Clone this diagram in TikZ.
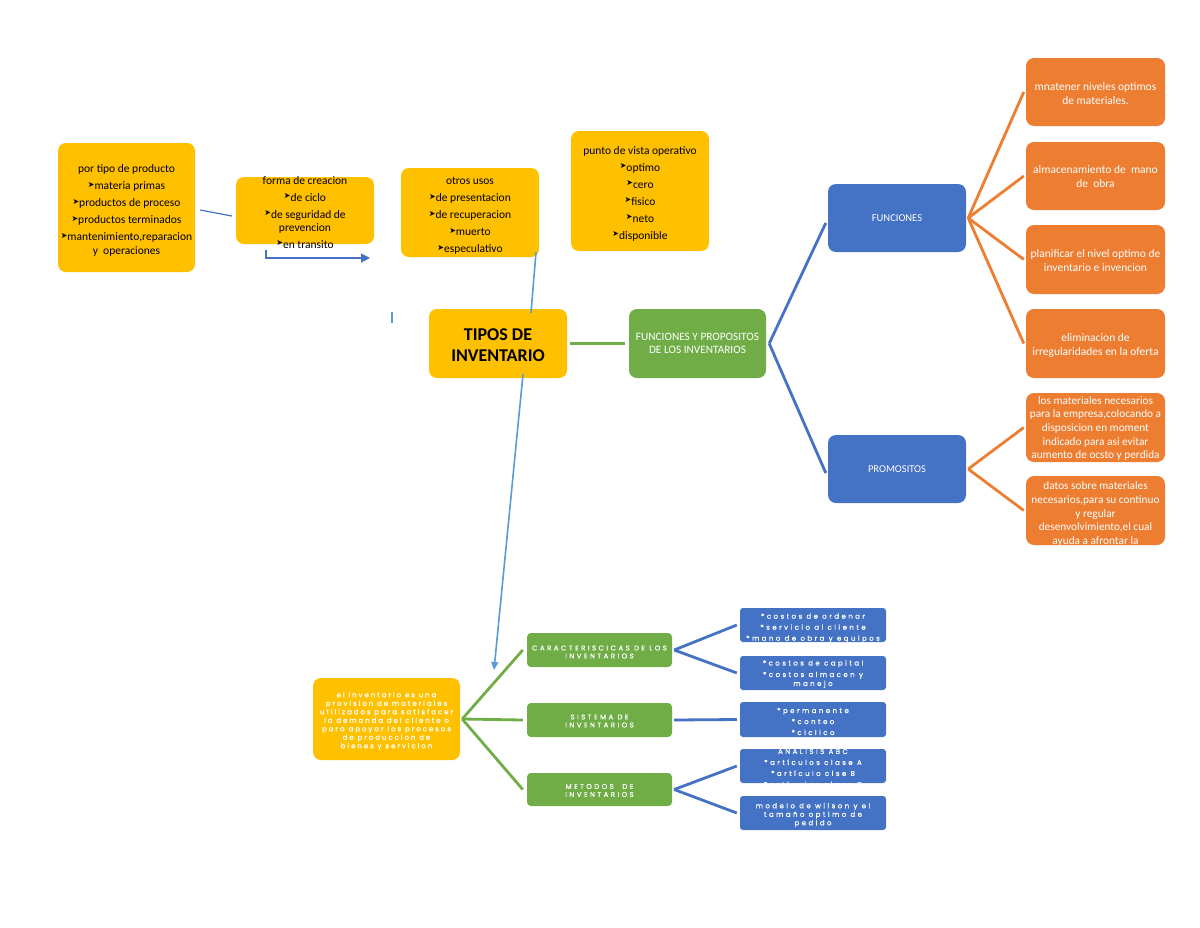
\documentclass[tikz,border=0pt]{standalone}
\usepackage{fontspec}
\setmainfont{Carlito}
\newfontfamily\dejavu{DejaVu Sans}
\newfontfamily\wideA[LetterSpace=35,FakeBold=0.6]{Poppins}
\newfontfamily\wideB[LetterSpace=28,FakeBold=0.6]{Poppins}
\usetikzlibrary{calc,arrows.meta}
\definecolor{yel}{HTML}{FFC000}
\definecolor{grn}{HTML}{70AD47}
\definecolor{blu}{HTML}{4472C4}
\definecolor{lblu}{HTML}{5B9BD5}
\definecolor{org}{HTML}{ED7D31}
\newcommand\bul{\raisebox{2.5pt}{\dejavu\fontsize{8}{8}\selectfont ➤}}
\begin{document}
\begin{tikzpicture}[x=1pt,y=-1pt,
  shp/.style={rounded corners=8pt, inner sep=0pt, draw=none},
  ybox/.style={shp, fill=yel},
  gbox/.style={shp, fill=grn},
  bbox/.style={shp, fill=blu},
  obox/.style={shp, fill=org},
  sbox/.style={rounded corners=3pt, inner sep=0pt, draw=none},
  txt/.style={align=center, inner sep=0pt, font=\fontsize{11.5}{17}\selectfont},
  otxt/.style={align=center, inner sep=0pt, text=white, font=\fontsize{11.5}{14}\selectfont},
  otxt2/.style={align=center, inner sep=0pt, text=white, font=\fontsize{11.3}{13.6}\selectfont},
  wtxt/.style={align=center, inner sep=0pt, text=white, font=\wideA\fontsize{7}{8}\selectfont},
  btxt/.style={align=center, inner sep=0pt, text=white, font=\wideA\fontsize{7}{11}\selectfont},
  itxt/.style={align=center, inner sep=0pt, text=white, font=\wideB\fontsize{7}{8.5}\selectfont},
  thin/.style={draw=blu, line width=1.2pt},
  thinl/.style={draw=lblu, line width=1.6pt},
  thick/.style={line width=2.8pt},
]
\useasboundingbox (0,0) rectangle (1200,927);

% ---------- boxes ----------
\node[ybox, minimum width=137pt, minimum height=129pt] (ptp) at (126.5,207.5) {};
\node[ybox, minimum width=138pt, minimum height=67pt] (forma) at (305,210.5) {};
\node[ybox, minimum width=138pt, minimum height=89pt] (otros) at (470,212.5) {};
\node[ybox, minimum width=138pt, minimum height=120pt] (punto) at (640,191) {};
\node[ybox, minimum width=138pt, minimum height=69pt] (tipos) at (498,343.5) {};
\node[gbox, minimum width=137pt, minimum height=69pt] (fyp) at (697.5,343.5) {};
\node[bbox, minimum width=138pt, minimum height=68pt] (fun) at (897,218) {};
\node[bbox, minimum width=138pt, minimum height=68pt] (pro) at (897,469) {};
\node[obox, minimum width=139pt, minimum height=68pt] (oa) at (1095.5,92) {};
\node[obox, minimum width=139pt, minimum height=68pt] (ob) at (1095.5,176) {};
\node[obox, minimum width=139pt, minimum height=69pt] (oc) at (1095.5,259.5) {};
\node[obox, minimum width=139pt, minimum height=69pt] (od) at (1095.5,343.5) {};
\node[obox, minimum width=139pt, minimum height=69pt] (oe) at (1095.5,427.5) {};
\node[obox, minimum width=139pt, minimum height=69pt] (of) at (1095.5,510.5) {};
\node[ybox, minimum width=147pt, minimum height=82pt] (inv) at (386.5,719) {};
\node[gbox, rounded corners=4pt, minimum width=145pt, minimum height=34pt] (car) at (599.5,650) {};
\node[gbox, rounded corners=4pt, minimum width=145pt, minimum height=34pt] (sis) at (599.5,720) {};
\node[gbox, rounded corners=4pt, minimum width=145pt, minimum height=33pt] (met) at (599.5,789.5) {};
\node[bbox, sbox, minimum width=146pt, minimum height=34pt] (ba) at (813,625) {};
\node[bbox, sbox, minimum width=146pt, minimum height=34pt] (bb) at (813,673) {};
\node[bbox, sbox, minimum width=146pt, minimum height=35pt] (bc) at (813,719.5) {};
\node[bbox, sbox, minimum width=146pt, minimum height=34pt] (bd) at (813,766) {};
\node[bbox, sbox, minimum width=146pt, minimum height=34pt] (be) at (813,813) {};

% ---------- texts ----------
\node[txt] at ([yshift=-3pt]ptp.center) {por tipo de producto\\\bul materia primas\\\bul productos de proceso\\\bul productos terminados\\\bul mantenimiento,reparacion\\[-3pt]y\ \ operaciones};
\node[txt] at ([yshift=-2pt]forma.center) {forma de creacion\\\bul de ciclo\\\bul de seguridad de\\[-4pt]prevencion\\\bul en transito};
\node[txt] at ([yshift=-3.5pt]otros.center) {otros usos\\\bul de presentacion\\\bul de recuperacion\\\bul muerto\\\bul especulativo};
\node[txt] at ([yshift=-2.5pt]punto.center) {punto de vista operativo\\\bul optimo\\\bul cero\\\bul fisico\\\bul neto\\\bul disponible};
\node[align=center, inner sep=0pt, font=\bfseries\fontsize{18}{21}\selectfont] at ([yshift=-2pt]tipos.center) {TIPOS DE\\INVENTARIO};
\node[align=center, inner sep=0pt, text=white, font=\fontsize{11.3}{13}\selectfont] at (fyp.center) {FUNCIONES Y PROPOSITOS\\DE LOS INVENTARIOS};
\node[align=center, inner sep=0pt, text=white, font=\fontsize{10.5}{12}\selectfont] at (fun.center) {FUNCIONES};
\node[align=center, inner sep=0pt, text=white, font=\fontsize{10.5}{12}\selectfont] at (pro.center) {PROMOSITOS};
\node[otxt] at ([yshift=-2pt]oa.center) {mnatener niveles optimos\\de materiales.};
\node[otxt] at ([yshift=-1pt]ob.center) {almacenamiento de\ \ mano\\de\ \ obra};
\node[otxt] at ([yshift=-1pt]oc.center) {planificar el nivel optimo de\\inventario e invencion};
\node[otxt] at ([yshift=-2pt]od.center) {eliminacion de\\irregularidades en la oferta};
\node[otxt2] at ([yshift=-1pt]oe.center) {los materiales necesarios\\para la empresa,colocando a\\disposicion en moment\\indicado para asi evitar\\aumento de ocsto y perdida};
\node[otxt2] at ([yshift=-3.5pt]of.center) {datos sobre materiales\\necesarios,para su continuo\\y regular\\desenvolvimiento,el cual\\ayuda a afrontar la};
\node[itxt] at ([yshift=-2pt]inv.center) {el inventario es una\\provision de materiales\\utilizados para satisfacer\\la demanda del cliente o\\para apoyar los procesos\\de produccion de\\bienes y servicion};
\node[wtxt] at ([yshift=-2pt]car.center) {CARACTERISCICAS DE LOS\\INVENTARIOS};
\node[wtxt] at ([yshift=-1pt]sis.center) {SISTEMA DE\\INVENTARIOS};
\node[wtxt] at ([yshift=-1pt]met.center) {METODOS\ \ DE\\INVENTARIOS};
\node[btxt] at ([yshift=-3pt]ba.center) {*costos de ordenar\\*servicio al cliente\\*mano de obra y equipos};
\node[btxt, font=\wideA\fontsize{7}{11.5}\selectfont] at ([yshift=-1pt]bb.center) {*costos de capital\\*costos almacen y\\[-2.5pt]manejo};
\node[btxt] at ([yshift=-2pt]bc.center) {*permanente\\*conteo\\*ciclico};
\node[btxt] at ([yshift=-2pt]bd.center) {ANALISIS ABC\\*artículos clase A\\*artículo clse B\\*artículos clase C};
\node[btxt, font=\wideA\fontsize{7}{8.5}\selectfont] at ([yshift=-2pt]be.center) {modelo de wilson y el\\tamaño optimo de\\pedido};

% ---------- connectors ----------
\draw[thin] ([xshift=5pt,yshift=-2.5pt]ptp.east) -- ([xshift=-4pt,yshift=-5.5pt]forma.west);
\coordinate (fa) at (266,250);
\coordinate (fb) at (370,258);
\draw[thin, -{Triangle[length=9pt,width=9pt]}] (fa) |- (fb);
\coordinate (m1) at (392,312);
\coordinate (m2) at (392,323);
\draw[thinl] (m1) -- (m2);
\draw[thinl] ([xshift=66pt,yshift=5pt]otros.south) -- ([xshift=33pt,yshift=-4pt]tipos.north);
\coordinate (arrend) at (494,670);
\draw[thinl, -{Triangle[length=8pt,width=7pt]}] ([xshift=25pt,yshift=4pt]tipos.south) -- (arrend);
\draw[grn, thick] ([xshift=3pt]tipos.east) -- ([xshift=-4pt]fyp.west);
\draw[blu, thick] ([xshift=3pt]fyp.east) -- ([xshift=-2pt,yshift=-5pt]fun.west);
\draw[blu, thick] ([xshift=3pt]fyp.east) -- ([xshift=-2pt,yshift=-4pt]pro.west);
\foreach \t in {oa,ob,oc,od}
  \draw[org, thick] ([xshift=2pt]fun.east) -- ([xshift=-2pt]\t.west);
\foreach \t in {oe,of}
  \draw[org, thick] ([xshift=2pt]pro.east) -- ([xshift=-2pt]\t.west);
\foreach \t in {car,sis,met}
  \draw[grn, thick] ([xshift=2pt]inv.east) -- ([xshift=-4pt]\t.west);
\draw[blu, thick] ([xshift=2pt]car.east) -- ([xshift=-3pt]ba.west);
\draw[blu, thick] ([xshift=2pt]car.east) -- ([xshift=-3pt]bb.west);
\draw[blu, thick] ([xshift=2pt]sis.east) -- ([xshift=-3pt]bc.west);
\draw[blu, thick] ([xshift=2pt]met.east) -- ([xshift=-3pt]bd.west);
\draw[blu, thick] ([xshift=2pt]met.east) -- ([xshift=-3pt]be.west);
\end{tikzpicture}
\end{document}
